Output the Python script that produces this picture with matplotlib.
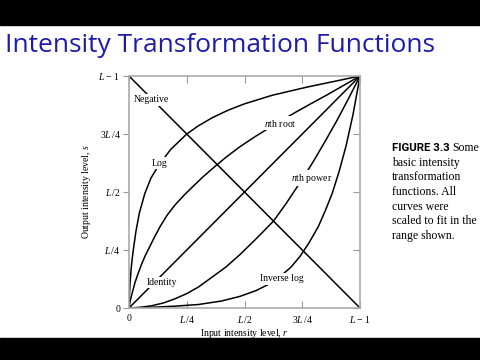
import numpy as np
import matplotlib.pyplot as plt
from matplotlib.patches import Rectangle

# curve samples, normalised so 0 -> 0 and 1 -> L-1
r_log = [0, 0.002, 0.005, 0.009, 0.014, 0.02, 0.03, 0.045, 0.069, 0.095, 0.127,
         0.18, 0.25, 0.3, 0.36, 0.43, 0.5, 0.62, 0.77, 0.88, 1]
s_log = [0, 0.06, 0.115, 0.165, 0.214, 0.26, 0.33, 0.41, 0.495, 0.56, 0.613,
         0.683, 0.75, 0.785, 0.82, 0.853, 0.88, 0.917, 0.952, 0.975, 1]

r_root = [0, 0.005, 0.01, 0.018, 0.026, 0.04, 0.055, 0.07, 0.09, 0.11, 0.134, 0.165,
          0.2, 0.24, 0.278, 0.32, 0.372, 0.42, 0.48, 0.54, 0.6, 0.66, 0.72, 0.79,
          0.86, 0.93, 1]
s_root = [0, 0.03, 0.05, 0.08, 0.11, 0.15, 0.19, 0.225, 0.265, 0.305, 0.35, 0.40,
          0.445, 0.488, 0.525, 0.565, 0.61, 0.65, 0.695, 0.735, 0.772, 0.808, 0.843,
          0.882, 0.92, 0.96, 1]

r_ident = [0, 1]
s_ident = [0, 1]

r_neg = [0, 1]
s_neg = [1, 0]

r_pow = [0, 0.05, 0.1, 0.15, 0.2, 0.25, 0.3, 0.372, 0.42, 0.48, 0.55, 0.625,
         0.68, 0.75, 0.8, 0.85, 0.9, 0.95, 1]
s_pow = [0, 0.003, 0.01, 0.022, 0.04, 0.062, 0.09, 0.142, 0.177, 0.23, 0.298, 0.374,
         0.45, 0.555, 0.635, 0.72, 0.808, 0.902, 1]

r_ilog = [0, 0.1, 0.2, 0.3, 0.4, 0.48, 0.55, 0.6, 0.65, 0.7, 0.74, 0.78, 0.82,
          0.85, 0.88, 0.91, 0.94, 0.97, 1]
s_ilog = [0, 0.003, 0.008, 0.015, 0.03, 0.05, 0.075, 0.1, 0.132, 0.175, 0.222,
          0.282, 0.352, 0.42, 0.495, 0.59, 0.7, 0.835, 1]

ticks = [0, 0.25, 0.5, 0.75, 1]
ytick_labels = ['0', '$L\\,/4$', '$L\\,/2$', '$3L\\,/4$', '$L$ $-$ 1']
xtick_labels = ['0', '$L\\,/4$', '$L\\,/2$', '$3L\\,/4$', '$L$ $-$ 1']

# label text and where it sits (data coords)
curve_labels = [
    ('Negative', 0.098, 0.897),
    ('Log', 0.134, 0.624),
    ('$n$th root', 0.654, 0.796),
    ('$n$th power', 0.791, 0.559),
    ('Identity', 0.142, 0.11),
    ('Inverse log', 0.661, 0.126),
]

caption = ['basic intensity', 'transformation', 'functions. All',
           'curves were', 'scaled to fit in the', 'range shown.']

plt.rcParams['mathtext.fontset'] = 'custom'
plt.rcParams['mathtext.it'] = 'Liberation Serif:italic'
plt.rcParams['mathtext.rm'] = 'Liberation Serif'

fig = plt.figure(figsize=(4.8, 3.6), dpi=100)
fig.patches.append(Rectangle((0, 1 - 25/360), 1, 25/360, transform=fig.transFigure,
                             color='black', zorder=0))
fig.patches.append(Rectangle((0, 0), 1, 22/360, transform=fig.transFigure,
                             color='black', zorder=0))

fig.text(5/480, 1 - 45/360, 'Intensity Transformation Functions', color='#1c1ca8',
         fontsize=19, family='Open Sans', va='center', ha='left')

ax = fig.add_axes([129/480, 1 - 308/360, 231/480, 232/360])
lw = 1.1
ax.plot(r_neg, s_neg, color='black', lw=lw)
ax.plot(r_log, s_log, color='black', lw=lw)
ax.plot(r_root, s_root, color='black', lw=lw)
ax.plot(r_ident, s_ident, color='black', lw=lw)
ax.plot(r_pow, s_pow, color='black', lw=lw)
ax.plot(r_ilog, s_ilog, color='black', lw=lw)

for txt, x, y in curve_labels:
    ax.text(x, y, txt, fontsize=7, family='Liberation Serif', ha='center', va='center',
            bbox=dict(facecolor='white', edgecolor='none', pad=1.0), zorder=5)

ax.set_xlim(0, 1)
ax.set_ylim(0, 1)
for sp in ax.spines.values():
    sp.set_color('#aaaaaa')
    sp.set_linewidth(1.2)

ax.set_xticks(ticks)
ax.set_yticks(ticks)
ax.set_xticklabels(xtick_labels, family='Liberation Serif', fontsize=7)
ax.set_yticklabels(ytick_labels, family='Liberation Serif', fontsize=7)
ax.tick_params(axis='x', direction='in', top=True, length=5, color='#999999', pad=4)
ax.tick_params(axis='y', direction='out', length=4, color='#999999', pad=2, right=True)
for t in ax.yaxis.get_ticklines()[1::2]:
    t.set_marker(0)
    t.set_markersize(5)
ax.set_xlabel('Input intensity level, $r$', family='Liberation Serif', fontsize=7)
ax.set_ylabel('Output intensity level, $s$', family='Liberation Serif', fontsize=7)
ax.xaxis.set_label_coords(0.5, -0.082)
ax.yaxis.set_label_coords(-0.156, 0.5)

# caption on the right
fig_label = fig.text(392/480, 1 - 148/360, 'FIGURE 3.3', fontsize=8.2, weight='bold',
                     family='Roboto', va='center', ha='left')
renderer = fig.canvas.get_renderer()
bb = fig_label.get_window_extent(renderer)
fig.text((bb.x1 + 3)/480, 1 - 148/360, 'Some', fontsize=8.5, family='Liberation Serif',
         va='center', ha='left')
for i, line in enumerate(caption):
    fig.text(392/480, 1 - (148 + 14.7 * (i + 1))/360, line, fontsize=8.5,
             family='Liberation Serif', va='center', ha='left')

fig.savefig('out.png', dpi=100)
